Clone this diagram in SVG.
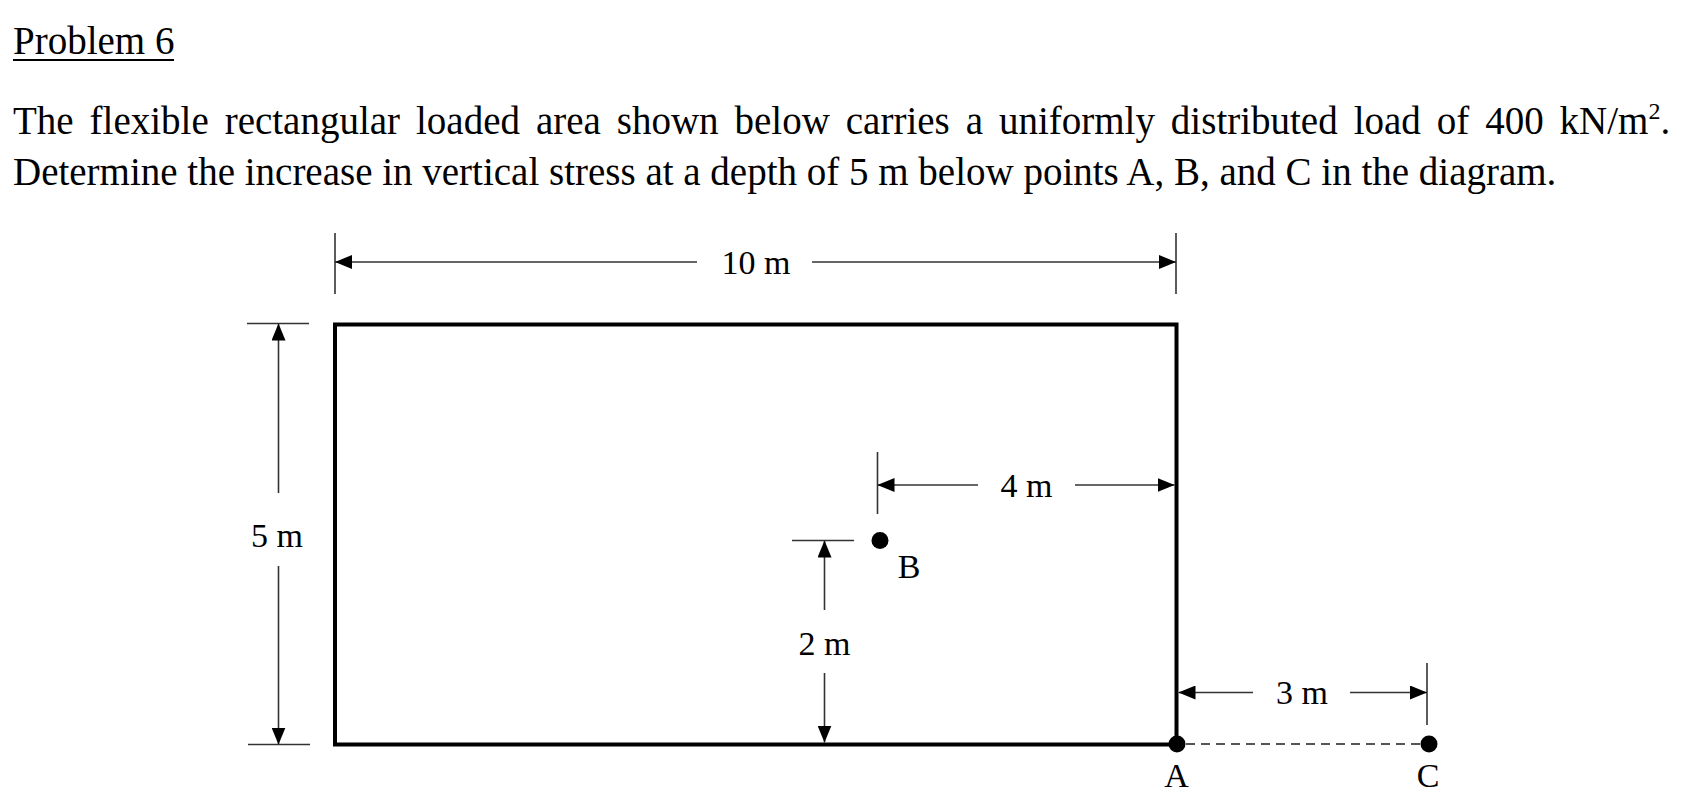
<svg xmlns="http://www.w3.org/2000/svg" width="1694" height="794" viewBox="0 0 1694 794">
<style>
text{font-family:"Liberation Serif","Times New Roman",serif;fill:#000}
.body{font-size:39px}
.lbl{font-size:34px;text-anchor:middle}
.dim{stroke:#333;stroke-width:1.6;fill:none}
.tick{stroke:#333;stroke-width:1.6}
.dash{stroke:#555;stroke-width:1.8;stroke-dasharray:9 6}
.pt{fill:#000}
</style>
<defs>
<marker id="ah" viewBox="0 0 17 14" refX="17" refY="7" markerWidth="17" markerHeight="14" orient="auto" markerUnits="userSpaceOnUse">
<path d="M0,0 L17,7 L0,14 z" fill="#000"/>
</marker>
</defs>
<rect width="1694" height="794" fill="#fff"/>
<g id="heading">
<text class="body" x="13" y="54">Problem 6</text>
<line x1="13" y1="60" x2="174" y2="60" stroke="#000" stroke-width="2"/>
</g>
<g id="statement">
<text class="body" x="13" y="134" word-spacing="6.2">The flexible rectangular loaded area shown below carries a uniformly distributed load of 400 kN/m<tspan font-size="24" dy="-15">2</tspan><tspan dy="15">.</tspan></text>
<text class="body" x="13" y="185">Determine the increase in vertical stress at a depth of 5 m below points A, B, and C in the diagram.</text>
</g>
<g id="area">
<rect x="335" y="324.5" width="841.5" height="420" fill="none" stroke="#000" stroke-width="4"/>
</g>
<g id="connectors">
<line class="tick" x1="335" y1="233" x2="335" y2="294"/>
<line class="tick" x1="1176" y1="233" x2="1176" y2="294"/>
<line class="dim" x1="697" y1="262" x2="335" y2="262" marker-end="url(#ah)"/>
<line class="dim" x1="812" y1="262" x2="1176" y2="262" marker-end="url(#ah)"/>
<line class="tick" x1="247" y1="323.5" x2="309" y2="323.5"/>
<line class="tick" x1="248" y1="744.5" x2="310" y2="744.5"/>
<line class="dim" x1="278.5" y1="493" x2="278.5" y2="323.5" marker-end="url(#ah)"/>
<line class="dim" x1="278.5" y1="566" x2="278.5" y2="744.5" marker-end="url(#ah)"/>
<line class="tick" x1="877.5" y1="452" x2="877.5" y2="514"/>
<line class="dim" x1="978" y1="485" x2="877.5" y2="485" marker-end="url(#ah)"/>
<line class="dim" x1="1075" y1="485" x2="1174.5" y2="485" marker-end="url(#ah)"/>
<line class="tick" x1="792" y1="540.5" x2="854" y2="540.5"/>
<line class="dim" x1="824.5" y1="610" x2="824.5" y2="540.5" marker-end="url(#ah)"/>
<line class="dim" x1="824.5" y1="673" x2="824.5" y2="742.5" marker-end="url(#ah)"/>
<line class="tick" x1="1427" y1="663" x2="1427" y2="725"/>
<line class="dim" x1="1253" y1="692.5" x2="1178.5" y2="692.5" marker-end="url(#ah)"/>
<line class="dim" x1="1350" y1="692.5" x2="1427" y2="692.5" marker-end="url(#ah)"/>
<line class="dash" x1="1186" y1="744" x2="1420" y2="744"/>
</g>
<g id="dim-labels">
<text class="lbl" x="756" y="274">10 m</text>
<text class="lbl" x="277" y="546.5">5 m</text>
<text class="lbl" x="1026.5" y="497">4 m</text>
<text class="lbl" x="824.5" y="655">2 m</text>
<text class="lbl" x="1302" y="703.5">3 m</text>
</g>
<g id="point-A">
<circle class="pt" cx="1177" cy="744" r="8.5"/>
<text class="lbl" x="1176.5" y="786.5">A</text>
</g>
<g id="point-B">
<circle class="pt" cx="880" cy="540.5" r="8.5"/>
<text class="lbl" x="909" y="577.5">B</text>
</g>
<g id="point-C">
<circle class="pt" cx="1429" cy="744" r="8.5"/>
<text class="lbl" x="1428" y="786.5">C</text>
</g>
</svg>
